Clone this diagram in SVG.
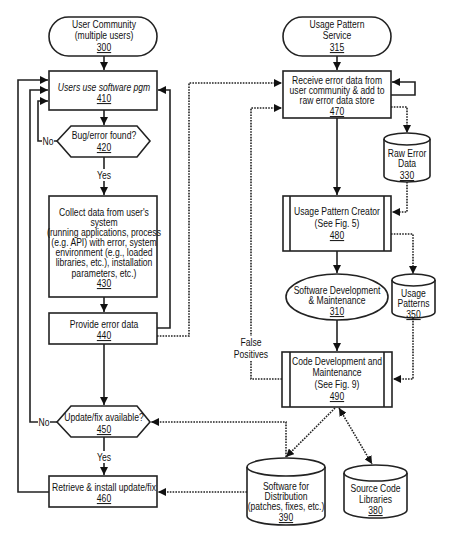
<svg xmlns="http://www.w3.org/2000/svg" width="474" height="542" viewBox="0 0 474 542">
<style>
text{font-family:"Liberation Sans",Arial,sans-serif;font-size:10.1px;fill:#111;text-anchor:middle}
.u{text-decoration:underline}
.shape{fill:#fff;stroke:#222;stroke-width:1.6}
.c{fill:none;stroke:#222;stroke-width:1.6}
.d{fill:none;stroke:#222;stroke-width:1.6;stroke-dasharray:1.6 1.2}
.lbl{fill:#fff;stroke:none}
</style>
<defs>
<marker id="a" markerUnits="userSpaceOnUse" markerWidth="9" markerHeight="8" refX="8" refY="4" orient="auto-start-reverse" viewBox="0 0 9 8">
<path d="M0,0 L8,4 L0,8 z" fill="#111"/>
</marker>
</defs>
<rect width="474" height="542" fill="#fff"/>
<g id="connectors">
<path class="c" d="M104,56 V70" marker-end="url(#a)"/>
<path class="c" d="M104,110 V125" marker-end="url(#a)"/>
<path class="c" d="M57,141 H38 V101 H48" marker-end="url(#a)"/>
<path class="c" d="M104,157 V195" marker-end="url(#a)"/>
<path class="c" d="M104,297 V312" marker-end="url(#a)"/>
<path class="c" d="M157,328 H170 V90 H158" marker-end="url(#a)"/>
<path class="c" d="M104,344 V405" marker-end="url(#a)"/>
<path class="c" d="M57,422 H30 V90 H48" marker-end="url(#a)"/>
<path class="c" d="M104,437 V475" marker-end="url(#a)"/>
<path class="c" d="M49,492 H18 V80 H48" marker-end="url(#a)"/>
<path class="c" d="M337,56 V70" marker-end="url(#a)"/>
<path class="c" d="M391,95 H415 V82 H392" marker-end="url(#a)"/>
<path class="c" d="M337,118 V195" marker-end="url(#a)"/>
<path class="c" d="M337,251 V273" marker-end="url(#a)"/>
<path class="c" d="M337,320 V351" marker-end="url(#a)"/>
<path class="d" d="M157,336 H189 V83 H282" marker-end="url(#a)"/>
<path class="d" d="M282,379 H251 V108 H282" marker-end="url(#a)"/>
<path class="d" d="M391,107 H407 V133" marker-end="url(#a)"/>
<path class="d" d="M407,182 V212 H392" marker-end="url(#a)"/>
<path class="d" d="M391,234 H413 V274" marker-end="url(#a)"/>
<path class="d" d="M413,318 V379 H393" marker-end="url(#a)"/>
<path class="d" d="M335,408 L286,457" marker-end="url(#a)"/>
<path class="d" d="M339,408 L372,464" marker-start="url(#a)" marker-end="url(#a)"/>
<path class="d" d="M286,457 V422 H151" marker-end="url(#a)"/>
<path class="d" d="M247,492 H158" marker-end="url(#a)"/>
<rect class="lbl" x="42" y="135" width="12" height="12"/>
<rect class="lbl" x="38" y="416" width="12" height="12"/>
<rect class="lbl" x="96" y="169" width="16" height="12"/>
<rect class="lbl" x="96" y="451" width="16" height="12"/>
<rect class="lbl" x="234" y="336" width="34" height="25"/>
<g transform="translate(48 0) scale(0.85 1)"><text x="0" y="145">No</text></g>
<g transform="translate(44 0) scale(0.85 1)"><text x="0" y="426">No</text></g>
<g transform="translate(104 0) scale(0.85 1)"><text x="0" y="179">Yes</text><text x="0" y="461">Yes</text></g>
<g transform="translate(251 0) scale(0.85 1)"><text x="0" y="346">False</text><text x="0" y="358">Positives</text></g>
</g>
<g id="n300">
<rect class="shape" x="49" y="17" width="108" height="39" rx="19.5"/>
<g transform="translate(104 0) scale(0.85 1)">
<text x="0" y="28">User Community</text>
<text x="0" y="39">(multiple users)</text>
<text x="0" y="51" class="u">300</text>
</g>
</g>
<g id="n410">
<rect class="shape" x="49" y="71" width="108" height="39"/>
<g transform="translate(104 0) scale(0.85 1)">
<text x="0" y="91" font-style="italic">Users use software pgm</text>
<text x="0" y="102" class="u">410</text>
</g>
</g>
<g id="n420">
<polygon class="shape" points="57,141 71,126 137,126 150,141 137,157 71,157"/>
<g transform="translate(104 0) scale(0.85 1)">
<text x="0" y="139">Bug/error found?</text>
<text x="0" y="151" class="u">420</text>
</g>
</g>
<g id="n430">
<rect class="shape" x="49" y="196" width="108" height="101"/>
<g transform="translate(104 0) scale(0.85 1)">
<text x="0" y="216">Collect data from user's</text>
<text x="0" y="226">system</text>
<text x="0" y="236">(running applications, process</text>
<text x="0" y="246">(e.g. API) with error, system</text>
<text x="0" y="256">environment (e.g., loaded</text>
<text x="0" y="266">libraries, etc.), installation</text>
<text x="0" y="277">parameters, etc.)</text>
<text x="0" y="287" class="u">430</text>
</g>
</g>
<g id="n440">
<rect class="shape" x="49" y="313" width="108" height="31"/>
<g transform="translate(104 0) scale(0.85 1)">
<text x="0" y="328">Provide error data</text>
<text x="0" y="339" class="u">440</text>
</g>
</g>
<g id="n450">
<polygon class="shape" points="57,422 71,406 137,406 150,422 137,437 71,437"/>
<g transform="translate(104 0) scale(0.85 1)">
<text x="0" y="421">Update/fix available?</text>
<text x="0" y="433" class="u">450</text>
</g>
</g>
<g id="n460">
<rect class="shape" x="49" y="476" width="108" height="31"/>
<g transform="translate(104 0) scale(0.85 1)">
<text x="0" y="491">Retrieve &amp; install update/fix</text>
<text x="0" y="502" class="u">460</text>
</g>
</g>
<g id="n315">
<rect class="shape" x="283" y="17" width="108" height="39" rx="19.5"/>
<g transform="translate(337 0) scale(0.85 1)">
<text x="0" y="28">Usage Pattern</text>
<text x="0" y="39">Service</text>
<text x="0" y="51" class="u">315</text>
</g>
</g>
<g id="n470">
<rect class="shape" x="283" y="71" width="108" height="47"/>
<g transform="translate(337 0) scale(0.85 1)">
<text x="0" y="84">Receive error data from</text>
<text x="0" y="94">user community &amp; add to</text>
<text x="0" y="104">raw error data store</text>
<text x="0" y="115" class="u">470</text>
</g>
</g>
<g id="n330">
<path class="shape" d="M384,139 A23,6 0 0 1 430,139 V176 A23,6 0 0 1 384,176 Z"/>
<path class="c" d="M384,139 A23,6 0 0 0 430,139"/>
<g transform="translate(407 0) scale(0.85 1)">
<text x="0" y="157">Raw Error</text>
<text x="0" y="167">Data</text>
<text x="0" y="179" class="u">330</text>
</g>
</g>
<g id="n480">
<rect class="shape" x="283" y="196" width="108" height="55"/>
<path class="c" d="M290,196 V251 M384,196 V251"/>
<g transform="translate(337 0) scale(0.85 1)">
<text x="0" y="215">Usage Pattern Creator</text>
<text x="0" y="227">(See Fig. 5)</text>
<text x="0" y="239" class="u">480</text>
</g>
</g>
<g id="n350">
<path class="shape" d="M392,280 A21.5,6 0 0 1 435,280 V312 A21.5,6 0 0 1 392,312 Z"/>
<path class="c" d="M392,280 A21.5,6 0 0 0 435,280"/>
<g transform="translate(413.5 0) scale(0.85 1)">
<text x="0" y="297">Usage</text>
<text x="0" y="307">Patterns</text>
<text x="0" y="318" class="u">350</text>
</g>
</g>
<g id="n310">
<ellipse class="shape" cx="337" cy="297" rx="51" ry="23"/>
<g transform="translate(337 0) scale(0.85 1)">
<text x="0" y="294">Software Development</text>
<text x="0" y="304">&amp; Maintenance</text>
<text x="0" y="315" class="u">310</text>
</g>
</g>
<g id="n490">
<rect class="shape" x="282" y="352" width="110" height="55"/>
<path class="c" d="M290,352 V407 M384,352 V407"/>
<g transform="translate(337 0) scale(0.85 1)">
<text x="0" y="365">Code Development and</text>
<text x="0" y="376">Maintenance</text>
<text x="0" y="388">(See Fig. 9)</text>
<text x="0" y="400" class="u">490</text>
</g>
</g>
<g id="n390">
<path class="shape" d="M247,467 A39,9 0 0 1 325,467 V516 A39,9 0 0 1 247,516 Z"/>
<path class="c" d="M247,467 A39,9 0 0 0 325,467"/>
<g transform="translate(286 0) scale(0.85 1)">
<text x="0" y="490">Software for</text>
<text x="0" y="500">Distribution</text>
<text x="0" y="510">(patches, fixes, etc.)</text>
<text x="0" y="521" class="u">390</text>
</g>
</g>
<g id="n380">
<path class="shape" d="M344,473 A31.5,8 0 0 1 407,473 V510 A31.5,8 0 0 1 344,510 Z"/>
<path class="c" d="M344,473 A31.5,8 0 0 0 407,473"/>
<g transform="translate(375.5 0) scale(0.85 1)">
<text x="0" y="492">Source Code</text>
<text x="0" y="503">Libraries</text>
<text x="0" y="514" class="u">380</text>
</g>
</g>
</svg>
